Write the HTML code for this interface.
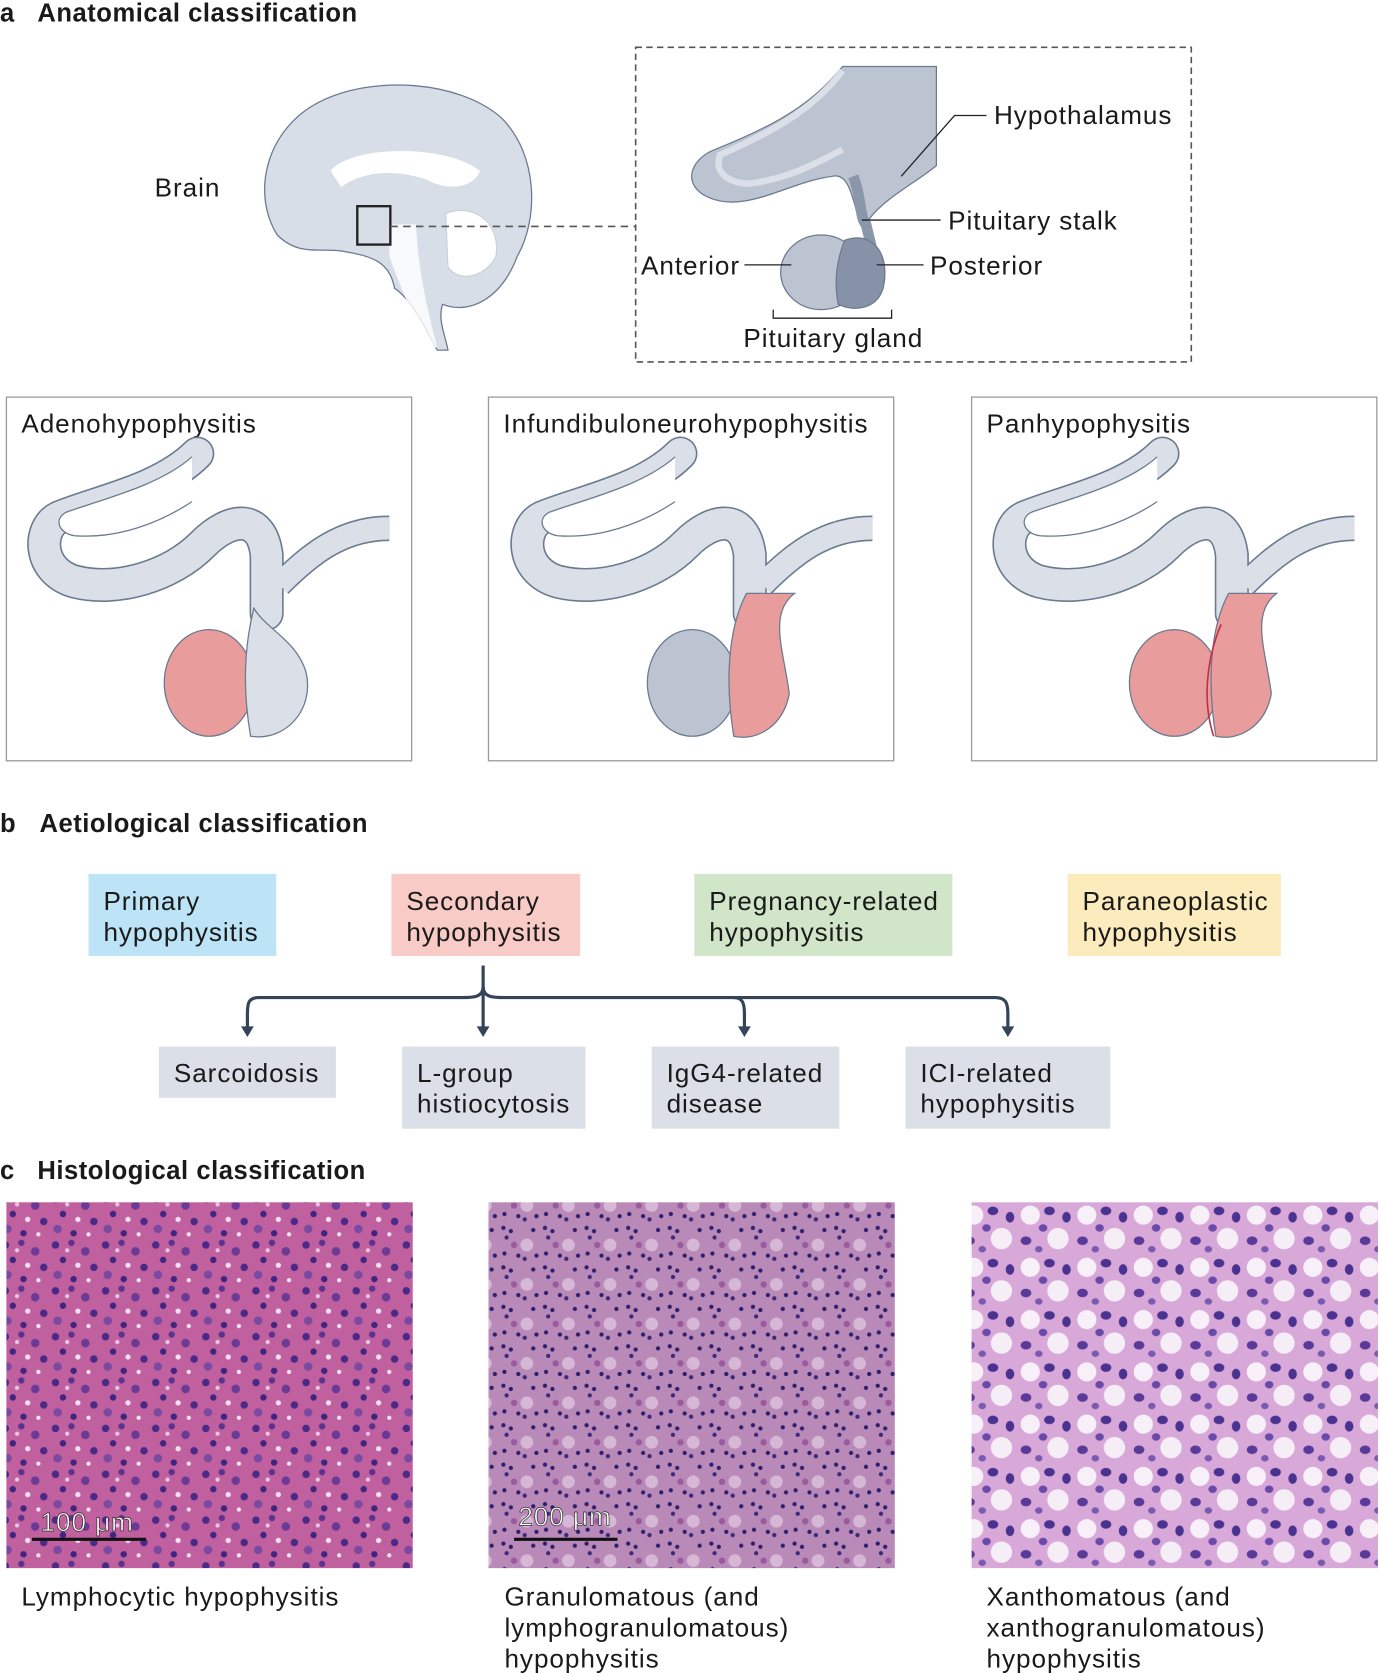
<!DOCTYPE html>
<html><head><meta charset="utf-8"><style>
html,body{margin:0;padding:0;background:#fff}
svg{display:block}
text{font-family:"Liberation Sans",sans-serif;fill:#1a1a1a}
.h{font-weight:bold;font-size:24px;letter-spacing:.5px}
.l{font-size:24.5px;letter-spacing:.9px}
</style></head><body>
<svg width="1379" height="1673" viewBox="0 0 1293 1568" xmlns="http://www.w3.org/2000/svg">
<defs>
<pattern id="p1" width="47" height="43" patternUnits="userSpaceOnUse">
<rect width="47" height="43" fill="#c0609f"/>
<circle cx="5" cy="6" r="3.5" fill="#4a2a86"/><circle cx="20" cy="4" r="3" fill="#5b338f"/>
<circle cx="33" cy="12" r="4" fill="#6a3a95"/><circle cx="12" cy="20" r="3" fill="#3f2480"/>
<circle cx="41" cy="27" r="3.5" fill="#4a2a86"/><circle cx="26" cy="25" r="2.5" fill="#f0e0f0"/>
<circle cx="7" cy="34" r="4" fill="#7a4aa0"/><circle cx="22" cy="38" r="3" fill="#3f2480"/>
<circle cx="36" cy="39" r="2" fill="#f4e8f4"/><circle cx="16" cy="11" r="2" fill="#e6c8e6"/>
</pattern>
<pattern id="p2" width="39" height="37" patternUnits="userSpaceOnUse">
<rect width="39" height="37" fill="#b98ab8"/>
<circle cx="4" cy="4" r="2" fill="#2e1f6e"/><circle cx="11" cy="7" r="2" fill="#2e1f6e"/>
<circle cx="7" cy="13" r="2" fill="#3a2878"/><circle cx="26" cy="20" r="6" fill="#d6b8d6"/>
<circle cx="32" cy="6" r="2" fill="#2e1f6e"/><circle cx="18" cy="30" r="2" fill="#2e1f6e"/>
<circle cx="24" cy="33" r="2" fill="#3a2878"/><circle cx="5" cy="28" r="2" fill="#2e1f6e"/>
<circle cx="14" cy="20" r="3" fill="#9a5a9e"/><circle cx="35" cy="30" r="2" fill="#2e1f6e"/>
</pattern>
<pattern id="p3" width="53" height="49" patternUnits="userSpaceOnUse">
<rect width="53" height="49" fill="#d8a8d8"/>
<circle cx="12" cy="12" r="9" fill="#f8f0f8"/><circle cx="38" cy="34" r="10" fill="#f6eef6"/>
<ellipse cx="30" cy="8" rx="5" ry="4" fill="#4a3290"/><ellipse cx="8" cy="36" rx="5" ry="4" fill="#5a3a98"/>
<ellipse cx="24" cy="24" rx="4" ry="3.5" fill="#6a4aa8"/><ellipse cx="46" cy="14" rx="4" ry="5" fill="#4a3290"/>
<ellipse cx="20" cy="44" rx="3.5" ry="3" fill="#7a5ab0"/>
</pattern>
<g id="pit">
<path d="M185,425 C150,460 90,470 55,485 C35,495 35,535 70,545 C110,555 160,540 190,510 C215,485 245,480 250,520 L250,575" fill="none" stroke="#6b7a90" stroke-width="32" stroke-linecap="round"/>
<path d="M262,548 C290,520 320,495 365,495" fill="none" stroke="#6b7a90" stroke-width="24"/>
<path d="M185,425 C150,460 90,470 55,485 C35,495 35,535 70,545 C110,555 160,540 190,510 C215,485 245,480 250,520 L250,575" fill="none" stroke="#dbe0e8" stroke-width="29" stroke-linecap="round"/>
<path d="M262,548 C290,520 320,495 365,495" fill="none" stroke="#dbe0e8" stroke-width="21"/>
<path d="M180,428 C150,455 95,468 62,480 C50,486 55,500 70,502 C110,505 150,490 180,470" fill="#fff" stroke="#6b7a90" stroke-width="1.2"/>
</g>
</defs>

<text x="0" y="20" class="h" font-size="26">a</text><text x="35" y="20" class="h">Anatomical classification</text>
<text x="145" y="184" class="l">Brain</text>
<path d="M260,220 C235,180 250,120 300,95 C350,70 430,75 470,110 C505,145 505,205 485,240 C470,280 440,295 415,285 C410,300 418,315 420,328 L410,328 C395,300 385,280 370,270 C365,245 350,240 320,235 C300,232 280,240 260,220Z" fill="#d8dee7" stroke="#6b7a90" stroke-width="1.2"/>
<path d="M310,160 C330,135 420,135 450,160 C445,175 420,180 400,168 C370,158 340,160 320,175Z" fill="#fff"/>
<path d="M418,200 C440,190 470,205 465,240 C455,260 430,265 420,250Z" fill="#fff" stroke="#c8cfda"/>
<path d="M365,210 L390,210 C392,240 395,270 410,325 L400,328 C385,290 372,260 365,240Z" fill="#fff" opacity=".8"/>
<rect x="335" y="193" width="31" height="36" fill="none" stroke="#222" stroke-width="2.2"/>
<line x1="366" y1="212" x2="596" y2="212" stroke="#555" stroke-width="1.5" stroke-dasharray="7,5"/>
<rect x="596" y="44" width="521" height="295" fill="none" stroke="#555" stroke-width="1.5" stroke-dasharray="6,4"/>
<path d="M790,62 L878,62 L878,155 C860,170 830,185 815,205 L810,215 C800,200 800,160 780,165 C740,170 700,200 665,185 C640,175 645,150 670,140 C720,120 760,100 790,62Z" fill="#bcc4d1" stroke="#6b7a90" stroke-width="1.2"/>
<path d="M790,66 C760,105 720,125 675,145 C670,160 680,170 700,172 C740,168 770,150 790,140" fill="none" stroke="#dbe0e8" stroke-width="6"/>
<path d="M800,165 C808,185 806,205 812,210 L818,235" fill="none" stroke="#8a96aa" stroke-width="10"/>
<ellipse cx="770" cy="255" rx="38" ry="35" fill="#bcc4d1" stroke="#6b7a90" stroke-width="1.2"/>
<path d="M792,225 C820,215 835,240 828,270 C822,290 800,292 786,285 C782,265 784,245 792,225Z" fill="#8792a8" stroke="#6b7a90" stroke-width="1.2"/>
<path d="M845,165 L895,108 L925,108" fill="none" stroke="#222" stroke-width="1.2"/>
<text x="932" y="116" class="l">Hypothalamus</text>
<line x1="808" y1="206" x2="882" y2="206" stroke="#222" stroke-width="1.2"/>
<text x="889" y="215" class="l">Pituitary stalk</text>
<line x1="698" y1="248" x2="742" y2="248" stroke="#222" stroke-width="1.2"/>
<text x="601" y="257" class="l" letter-spacing="0.3">Anterior</text>
<line x1="822" y1="248" x2="866" y2="248" stroke="#222" stroke-width="1.2"/>
<text x="872" y="257" class="l">Posterior</text>
<path d="M725,290 L725,298 L836,298 L836,290" fill="none" stroke="#222" stroke-width="1.2"/>
<text x="697" y="325" class="l">Pituitary gland</text>

<rect x="6" y="372" width="380" height="341" fill="none" stroke="#999" stroke-width="1.2"/>
<rect x="458" y="372" width="380" height="341" fill="none" stroke="#999" stroke-width="1.2"/>
<rect x="911" y="372" width="380" height="341" fill="none" stroke="#999" stroke-width="1.2"/>
<text x="20" y="405" class="l">Adenohypophysitis</text>
<text x="472" y="405" class="l">Infundibuloneurohypophysitis</text>
<text x="925" y="405" class="l">Panhypophysitis</text>
<use href="#pit"/>
<ellipse cx="196" cy="640" rx="42" ry="50" fill="#e99c9c" stroke="#6b7a90" stroke-width="1.2"/>
<path d="M238,570 C250,590 278,600 287,630 C295,665 268,695 235,690 C228,650 228,610 238,570Z" fill="#dbe0e8" stroke="#6b7a90" stroke-width="1.2"/>
<use href="#pit" x="453"/>
<ellipse cx="649" cy="640" rx="42" ry="50" fill="#bcc4d1" stroke="#6b7a90" stroke-width="1.2"/>
<path d="M700,556 L745,556 C720,575 735,610 740,650 C735,680 710,695 688,690 C680,640 682,590 700,556Z" fill="#e99c9c" stroke="#6b7a90" stroke-width="1.2"/>
<use href="#pit" x="905"/>
<ellipse cx="1101" cy="640" rx="42" ry="50" fill="#e99c9c" stroke="#6b7a90" stroke-width="1.2"/>
<path d="M1152,556 L1197,556 C1172,575 1187,610 1192,650 C1187,680 1162,695 1140,690 C1132,640 1134,590 1152,556Z" fill="#e99c9c" stroke="#6b7a90" stroke-width="1.2"/>
<path d="M1145,585 C1130,620 1128,660 1138,690" fill="none" stroke="#c03040" stroke-width="1.5"/>

<text x="0" y="780" class="h" font-size="28">b</text><text x="37" y="780" class="h">Aetiological classification</text>
<rect x="83" y="819" width="176" height="77" fill="#bde3f7"/>
<text x="97" y="853" class="l">Primary</text><text x="97" y="882" class="l">hypophysitis</text>
<rect x="367" y="819" width="177" height="77" fill="#f8cbc6"/>
<text x="381" y="853" class="l">Secondary</text><text x="381" y="882" class="l">hypophysitis</text>
<rect x="651" y="819" width="242" height="77" fill="#d1e6c8"/>
<text x="665" y="853" class="l">Pregnancy-related</text><text x="665" y="882" class="l">hypophysitis</text>
<rect x="1001" y="819" width="200" height="77" fill="#fcecbd"/>
<text x="1015" y="853" class="l">Paraneoplastic</text><text x="1015" y="882" class="l">hypophysitis</text>
<g fill="none" stroke="#344559" stroke-width="3">
<path d="M453,905 L453,925 C453,935 443,935 433,935 L243,935 C233,935 232,940 232,950 L232,966"/>
<path d="M453,925 L453,966"/>
<path d="M453,925 C453,935 463,935 473,935 L933,935 C943,935 945,940 945,950 L945,966"/>
<path d="M688,935 C696,935 698,940 698,950 L698,966"/>
</g>
<g fill="#344559">
<path d="M226,962 L238,962 L232,972Z"/><path d="M447,962 L459,962 L453,972Z"/>
<path d="M692,962 L704,962 L698,972Z"/><path d="M939,962 L951,962 L945,972Z"/>
</g>
<rect x="149" y="981" width="166" height="48" fill="#dbe0e8"/><text x="163" y="1014" class="l">Sarcoidosis</text>
<rect x="377" y="981" width="172" height="77" fill="#dbe0e8"/><text x="391" y="1014" class="l">L-group</text><text x="391" y="1043" class="l">histiocytosis</text>
<rect x="611" y="981" width="176" height="77" fill="#dbe0e8"/><text x="625" y="1014" class="l">IgG4-related</text><text x="625" y="1043" class="l">disease</text>
<rect x="849" y="981" width="192" height="77" fill="#dbe0e8"/><text x="863" y="1014" class="l">ICI-related</text><text x="863" y="1043" class="l">hypophysitis</text>

<text x="0" y="1105" class="h" font-size="28">c</text><text x="35" y="1105" class="h">Histological classification</text>
<rect x="6" y="1127" width="381" height="343" fill="url(#p1)"/>
<rect x="458" y="1127" width="381" height="343" fill="url(#p2)"/>
<rect x="911" y="1127" width="381" height="343" fill="url(#p3)"/>
<line x1="30" y1="1443" x2="137" y2="1443" stroke="#111" stroke-width="3"/>
<text x="38" y="1435" class="l" style="fill:#fff;stroke:#222;stroke-width:.6">100 μm</text>
<line x1="482" y1="1443" x2="579" y2="1443" stroke="#111" stroke-width="3"/>
<text x="486" y="1430" class="l" style="fill:#fff;stroke:#222;stroke-width:.6">200 μm</text>
<text x="20" y="1505" class="l">Lymphocytic hypophysitis</text>
<text x="473" y="1505" class="l">Granulomatous (and</text><text x="473" y="1534" class="l">lymphogranulomatous)</text><text x="473" y="1563" class="l">hypophysitis</text>
<text x="925" y="1505" class="l">Xanthomatous (and</text><text x="925" y="1534" class="l">xanthogranulomatous)</text><text x="925" y="1563" class="l">hypophysitis</text>
</svg>
</body></html>
